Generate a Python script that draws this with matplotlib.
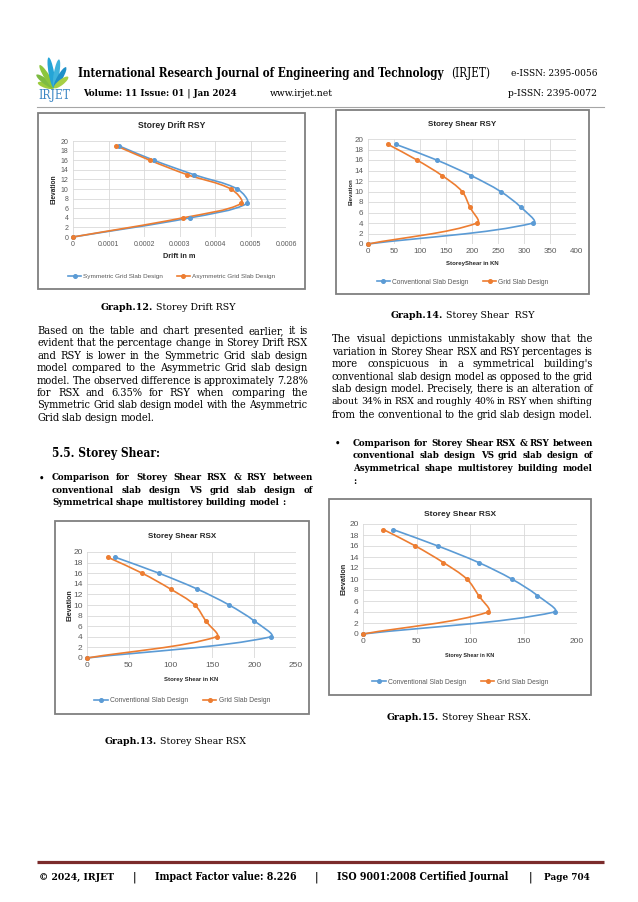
import numpy as np
import matplotlib
matplotlib.use('Agg')
import matplotlib.pyplot as plt
from matplotlib.path import Path
from matplotlib.patches import PathPatch, Rectangle, Ellipse
from matplotlib.lines import Line2D

# ---- data ----
elev = [0, 4, 7, 10, 13, 16, 19]
elev_ticks = list(range(0, 21, 2))

drift_sym = [0, 0.00033, 0.00049, 0.000463, 0.00034, 0.000227, 0.000129]
drift_asym = [0, 0.00031, 0.000474, 0.000445, 0.000321, 0.000216, 0.000122]
drift_ticks = [0, 0.0001, 0.0002, 0.0003, 0.0004, 0.0005, 0.0006]
drift_labels = ['0', '0.0001', '0.0002', '0.0003', '0.0004', '0.0005', '0.0006']
drift_names = ['Symmetric Grid Slab Design', 'Asymmetric Grid Slab Design']

rsy_conv = [0, 318, 294, 255, 199, 132, 53]
rsy_grid = [0, 210, 196, 181, 143, 94, 38]
rsy_ticks = [0, 50, 100, 150, 200, 250, 300, 350, 400]

rsx_sym_conv = [0, 220, 200, 170, 132, 86, 34]
rsx_sym_grid = [0, 155, 142, 129, 100, 66, 25]
rsx_sym_ticks = [0, 50, 100, 150, 200, 250]

rsx_asym_conv = [0, 179, 163, 139, 108, 70, 28]
rsx_asym_grid = [0, 117, 108, 97, 75, 49, 19]
rsx_asym_ticks = [0, 50, 100, 150, 200]

shear_names = ['Conventional Slab Design', 'Grid Slab Design']

para_left = [
    "Based on the table and chart presented earlier, it is",
    "evident that the percentage change in Storey Drift RSX",
    "and RSY is lower in the Symmetric Grid slab design",
    "model compared to the Asymmetric Grid slab design",
    "model. The observed difference is approximately 7.28%",
    "for RSX and 6.35% for RSY when comparing the",
    "Symmetric Grid slab design model with the Asymmetric",
    "Grid slab design model.",
]
bullet_left = [
    "Comparison for Storey Shear RSX & RSY between",
    "conventional slab design VS grid slab design of",
    "Symmetrical shape multistorey building model :",
]
para_right = [
    "The visual depictions unmistakably show that the",
    "variation in Storey Shear RSX and RSY percentages is",
    "more conspicuous in a symmetrical building's",
    "conventional slab design model as opposed to the grid",
    "slab design model. Precisely, there is an alteration of",
    "about 34% in RSX and roughly 40% in RSY when shifting",
    "from the conventional to the grid slab design model.",
]
bullet_right = [
    "Comparison for Storey Shear RSX & RSY between",
    "conventional slab design VS grid slab design of",
    "Asymmetrical shape multistorey building model",
    ":",
]

BLUE, ORANGE = '#5b9bd5', '#ed7d31'
SERIF = ['DejaVu Serif']
SANS = ['Liberation Sans Narrow', 'Liberation Sans', 'DejaVu Sans']

W, H = 638, 902
fig = plt.figure(figsize=(W / 100, H / 100), dpi=100)
page = fig.add_axes([0, 0, 1, 1])
page.set_xlim(0, W)
page.set_ylim(H, 0)
page.axis('off')
renderer = fig.canvas.get_renderer()


def width_of(t, rotated=False):
    e = t.get_window_extent(renderer)
    return e.height if rotated else e.width


def put(x, y, s, size, weight='normal', ha='left', width=None, family=SERIF,
        color='#000000', rotation=0):
    t = page.text(x, y, s, fontsize=size, fontweight=weight, ha=ha, va='center',
                  family=family, color=color, rotation=rotation,
                  fontstretch='condensed' if family is SERIF else 'normal')
    if width:
        t.set_fontsize(size * width / width_of(t, rotation != 0))
    return t


def fit_words(line, width, gap, weight='normal'):
    # font size at which the words of a line plus fixed gaps fill the width
    ts = [put(0, 0, w, 10, weight) for w in line.split()]
    total = sum(width_of(t) for t in ts)
    for t in ts:
        t.remove()
    return 10 * (width - gap * (len(ts) - 1)) / total


def justify(lines, x0, x1, y0, dy, size, weight='normal', space=2.6, min_space=2.0):
    for i, line in enumerate(lines):
        y = y0 + i * dy
        words = line.split()
        ts = [put(0, y, w, size, weight) for w in words]
        ws = [width_of(t) for t in ts]
        last = i == len(lines) - 1 or len(words) == 1
        room = x1 - x0 - min_space * (len(words) - 1)
        if sum(ws) > room:  # line too long for the column: shrink it a little
            k = room / sum(ws)
            for t in ts:
                t.set_fontsize(size * k)
            ws = [w * k for w in ws]
        gap = space if last else (x1 - x0 - sum(ws)) / (len(words) - 1)
        x = x0
        for t, w in zip(ts, ws):
            t.set_x(x)
            x += w + gap


def caption(cx, y, bold, rest, size):
    a = put(0, y, bold, size, 'bold')
    b = put(0, y, rest, size)
    wa, wb = width_of(a), width_of(b)
    a.set_x(cx - (wa + wb + 3) / 2)
    b.set_x(cx - (wa + wb + 3) / 2 + wa + 3)


def smooth_path(xs, ys, sx, sy):
    # excel-like smoothed line: bezier segments, tangents scaled by segment lengths
    p = np.column_stack([xs, ys]).astype(float)
    q = p * [sx, sy]
    ext = np.vstack([p[0], p, p[-1]])
    eq = np.vstack([q[0], q, q[-1]])
    verts, codes = [p[0]], [Path.MOVETO]
    for i in range(1, len(ext) - 2):
        d01 = np.hypot(*(eq[i] - eq[i - 1]))
        d12 = np.hypot(*(eq[i + 1] - eq[i]))
        d23 = np.hypot(*(eq[i + 2] - eq[i + 1]))
        f1 = d12 / (d01 + d12) / 3 if d01 + d12 > 0 else 0
        f2 = d12 / (d12 + d23) / 3 if d12 + d23 > 0 else 0
        c1 = ext[i] + (ext[i + 1] - ext[i - 1]) * f1
        c2 = ext[i + 1] - (ext[i + 2] - ext[i]) * f2
        verts += [c1, c2, ext[i + 1]]
        codes += [Path.CURVE4] * 3
    return Path(verts, codes)


def chart(frame, plot, title, xlabel, xticks, xlabels, series, names,
          title_y, title_w, xlabel_y, xlabel_w, ylab_x, ylab_w, legend_y, fs, lfs):
    fx0, fy0, fx1, fy1 = frame
    page.add_patch(Rectangle((fx0, fy0), fx1 - fx0, fy1 - fy0, fill=False,
                             ec='#7f7f7f', lw=1.3))
    px0, py0, px1, py1 = plot
    ax = fig.add_axes([px0 / W, 1 - py1 / H, (px1 - px0) / W, (py1 - py0) / H])
    ax.patch.set_alpha(0)
    ax.set_xlim(xticks[0], xticks[-1])
    ax.set_ylim(0, 20)
    ax.set_xticks(xticks, xlabels if xlabels else [str(v) for v in xticks])
    ax.set_yticks(elev_ticks)
    ax.tick_params(length=0, labelsize=fs, labelcolor='#595959', pad=3.2)
    for lab in ax.get_xticklabels() + ax.get_yticklabels():
        lab.set_family(SANS)
    ax.grid(color='#d9d9d9', lw=0.6)
    ax.set_axisbelow(True)
    for s in ax.spines.values():
        s.set_visible(False)
    sx = (px1 - px0) / (xticks[-1] - xticks[0])
    sy = (py1 - py0) / 20
    handles = []
    for vals, color in zip(series, [BLUE, ORANGE]):
        ax.add_patch(PathPatch(smooth_path(vals, elev, sx, sy), fc='none', ec=color,
                               lw=1.2, clip_on=False))
        ax.plot(vals, elev, ls='none', marker='o', ms=2.6, color=color, clip_on=False)
        handles.append(Line2D([], [], color=color, lw=1.2, marker='o', ms=2.6))
    put((fx0 + fx1) / 2, title_y, title, 7, 'bold', ha='center', width=title_w,
        family=SANS, color='#262626')
    put((px0 + px1) / 2, xlabel_y, xlabel, 5, 'bold', ha='center', width=xlabel_w,
        family=SANS, color='#262626')
    put(ylab_x, (py0 + py1) / 2, 'Elevation', 5, 'bold', ha='center', width=ylab_w,
        family=SANS, color='#262626', rotation=90)
    ax.legend(handles, names, loc='center', bbox_to_anchor=((fx0 + fx1) / 2, legend_y),
              bbox_transform=page.transData, ncol=2, frameon=False,
              prop={'family': SANS, 'size': lfs}, labelcolor='#595959',
              handlelength=2.0, handletextpad=0.3, columnspacing=2.2, borderpad=0)


# ---- header ----
base = np.array([54.0, 88.0])
leaves = [(162, 17, '#9bcb3c'), (143, 22, '#7dbb42'), (122, 27, '#8cc63e'),
          (100, 31, '#25a4d6'), (80, 29, '#3fb3dc'), (60, 24, '#1e90c8'), (38, 18, '#a7cf45')]
for ang, ln, col in leaves:
    d = np.array([np.cos(np.radians(ang)), -np.sin(np.radians(ang))])
    page.add_patch(Ellipse(base + d * ln / 2, ln, 5.5, angle=-ang, fc=col, ec='none'))
put(38, 96, 'IRJET', 6, width=32, color='#3b86c4')

put(78, 73, 'International Research Journal of Engineering and Technology', 9, 'bold', width=370)
put(451, 73, '(IRJET)', 9, width=39)
put(511, 73, 'e-ISSN: 2395-0056', 8, width=86)
put(83, 93, 'Volume: 11 Issue: 01 | Jan 2024', 8, 'bold', width=153)
put(270, 93, 'www.irjet.net', 8, width=63)
put(508, 93, 'p-ISSN: 2395-0072', 8, width=89)
page.plot([37, 604], [107, 107], color='#a6a6a6', lw=0.8)

# ---- body text ----
cap = fit_words('from the conventional to the grid slab design model.', 246, 2.6)
body = 1.05 * cap
bold_body = fit_words('Comparison for Storey Shear RSX & RSY between', 240, 3.0, 'bold')

caption(168, 307, 'Graph.12.', 'Storey Drift RSY', cap)
justify(para_left, 37, 308, 331, 12.4, body)
put(52, 453, '5.5. Storey Shear:', 10, 'bold', width=108)
put(39, 478, '\u2022', bold_body, 'bold')
justify(bullet_left, 52, 313, 478, 12.2, bold_body, 'bold', 3.0)

caption(463, 315, 'Graph.14.', 'Storey Shear  RSY', cap)
justify(para_right, 332, 593, 339, 12.6, body)
put(335, 443, '\u2022', bold_body, 'bold')
justify(bullet_right, 353, 593, 443, 12.8, bold_body, 'bold', 3.0)

caption(459, 718, 'Graph.15.', 'Storey Shear RSX.', cap)
caption(175, 741, 'Graph.13.', 'Storey Shear RSX', cap)

# ---- charts ----
chart((38, 113, 305, 289), (73, 141, 286, 237), 'Storey Drift RSY', 'Drift in m',
      drift_ticks, drift_labels, (drift_sym, drift_asym), drift_names,
      126, 67, 257, 33, 54, 30, 276, 5.0, 4.6)
chart((336, 110, 589, 294), (368, 139, 576, 244), 'Storey Shear RSY', 'StoreyShear in KN',
      rsy_ticks, None, (rsy_conv, rsy_grid), shear_names,
      124, 68, 263, 53, 351, 27, 282, 5.8, 4.8)
chart((55, 521, 309, 714), (87, 552, 296, 658), 'Storey Shear RSX', 'Storey Shear in KN',
      rsx_sym_ticks, None, (rsx_sym_conv, rsx_sym_grid), shear_names,
      536, 68, 679, 55, 70, 32, 701, 6.0, 4.9)
chart((329, 499, 591, 695), (363, 524, 577, 634), 'Storey Shear RSX', 'Storey Shear in KN',
      rsx_asym_ticks, None, (rsx_asym_conv, rsx_asym_grid), shear_names,
      514, 71, 656, 50, 344, 33, 682, 6.0, 4.9)

# ---- footer ----
page.plot([37, 604], [862, 862], color='#7b2b2b', lw=2.3, solid_capstyle='butt')
put(39, 877, '\u00a9 2024, IRJET', 8, 'bold', width=76)
put(155, 877, 'Impact Factor value: 8.226', 8, 'bold', width=143)
put(337, 877, 'ISO 9001:2008 Certified Journal', 8, 'bold', width=172)
put(544, 877, 'Page 704', 8, 'bold', width=46)
for x in [135, 317, 530]:
    put(x, 877, '|', 8, 'bold', ha='center')

fig.savefig('out.png', dpi=100)
